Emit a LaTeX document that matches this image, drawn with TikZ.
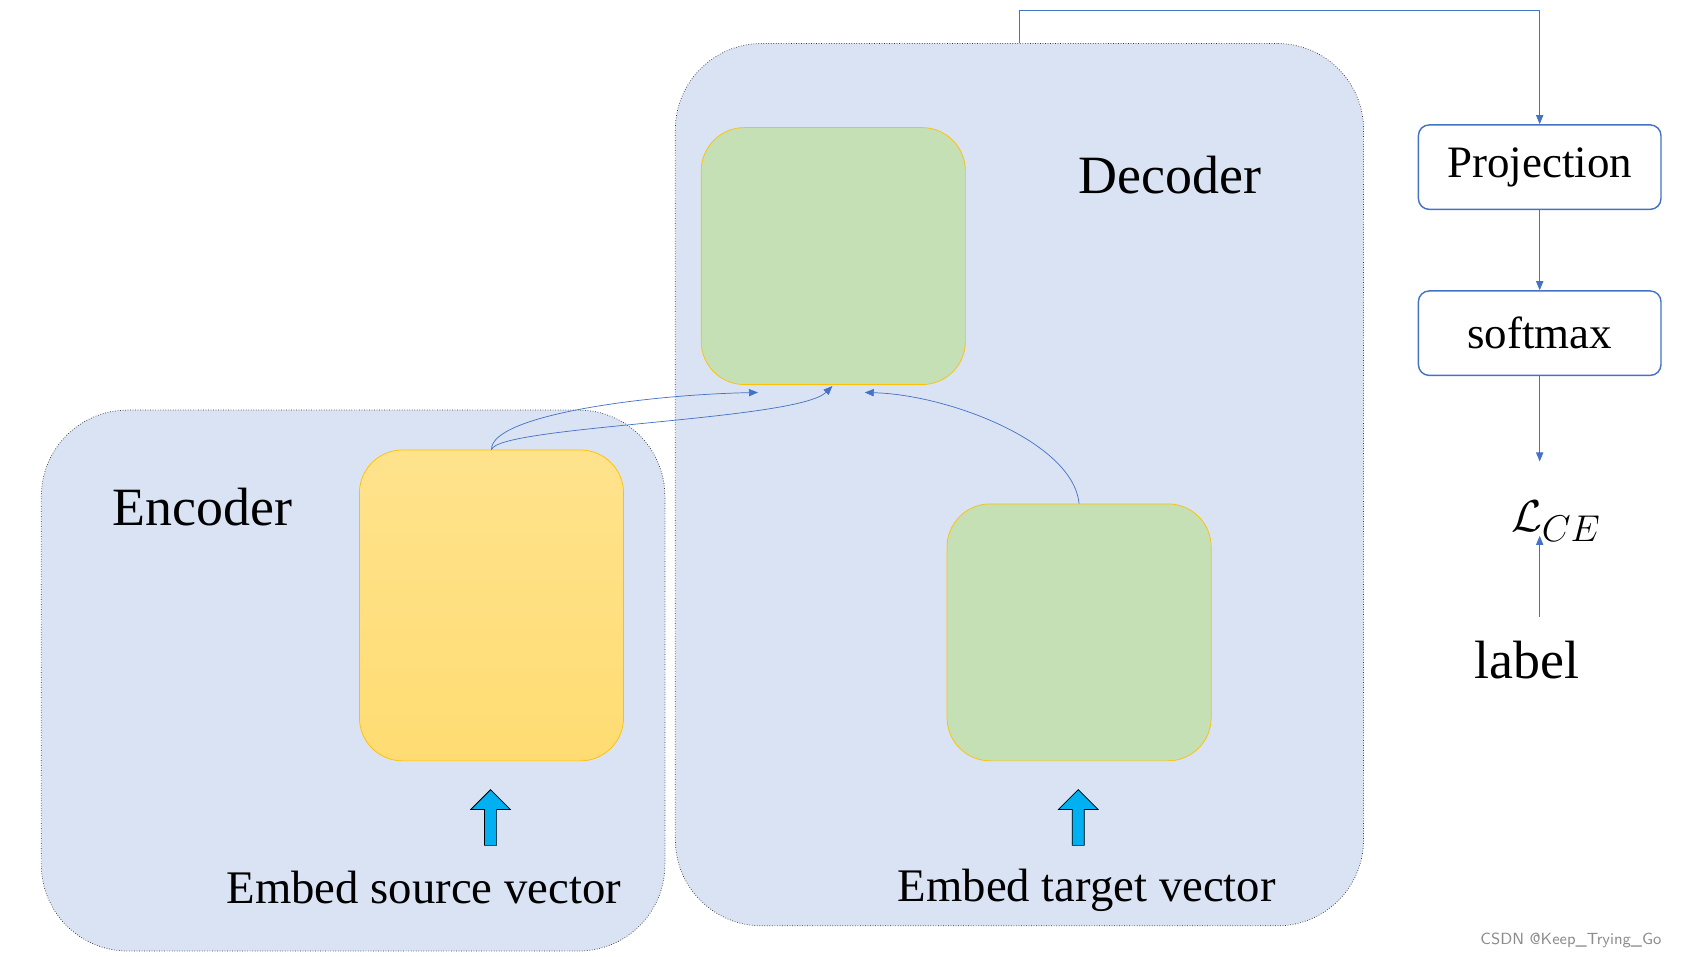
\documentclass[tikz,border=0pt]{standalone}
\usepackage{fontspec}
\setmainfont{Liberation Serif}
\usetikzlibrary{shapes.arrows,arrows.meta}
\definecolor{boxbg}{HTML}{DAE3F3}
\definecolor{grn}{HTML}{C5E0B4}
\definecolor{gold}{HTML}{FFC000}
\definecolor{lnk}{HTML}{4472C4}
\definecolor{cyanar}{HTML}{00B0F0}
\begin{document}
\begin{tikzpicture}[x=0.6pt,y=-0.6pt,
  big/.style={draw=black!80,densely dotted,fill=boxbg,rounded corners=48pt,anchor=north west,inner sep=0},
  blk/.style={draw=gold,rounded corners=24pt,anchor=north west,inner sep=0,minimum width=147pt},
  lab/.style={draw=lnk,thick,rounded corners=6pt,minimum width=135pt,minimum height=47pt,inner sep=0,font=\fontsize{25}{25}\selectfont},
  con/.style={draw=lnk,-{Triangle[length=5pt,width=4pt]}},
  up/.style={single arrow,shape border rotate=90,draw=black,fill=cyanar,minimum height=31pt,minimum width=22pt,single arrow head extend=5pt,inner sep=2pt}]
\useasboundingbox (0,0) rectangle (1560,887);
\node[big,minimum width=347pt,minimum height=301pt] (enc) at (38,380) {};
\node[big,minimum width=383pt,minimum height=491pt] (dec) at (626,40) {};
\node[blk,fill=grn,minimum height=143pt] (gt) at (650,118) {};
\node[blk,top color=gold!45,bottom color=gold!55,minimum height=173pt] (og) at (333,417) {};
\node[blk,fill=grn,minimum height=143pt] (gb) at (878,467) {};
\node[up] (a1) at (455,761) {};
\node[up] (a2) at (1000,761) {};
\node[font=\fontsize{30}{30}\selectfont] (tenc) at (188,470) {Encoder};
\node[font=\fontsize{30}{30}\selectfont] (tdec) at (1085,162) {Decoder};
\node[font=\fontsize{26}{26}\selectfont] (tsrc) at (393,823) {Embed source vector};
\node[font=\fontsize{26}{26}\selectfont] (ttgt) at (1008,826) {Embed target vector};
\node[lab] (proj) at (1428,155) {Projection};
\node[lab] (soft) at (1428,309) {softmax};
\node[font=\fontsize{30}{30}\selectfont] (lce) at (1443,483) {$\mathcal{L}_{CE}$};
\node[font=\fontsize{30}{30}\selectfont] (lbl) at (1416,612) {label};
\node[font=\sffamily\fontsize{9}{9}\selectfont,text=black!45] (wm) at (1457,872) {CSDN @Keep\_Trying\_Go};
\coordinate (dtop) at (945,40);
\coordinate (t1) at (703,364);
\coordinate (t2) at (772,358);
\coordinate (t3) at (802,364);
\draw[con] (dtop) |- (945,10) -| (proj.north);
\draw[con] (proj.south) -- (soft.north);
\draw[con] (soft.south) -- (1428,428);
\draw[con] (1428,572) -- (1428,497);
\draw[con] (og.north) .. controls (455,385) and (600,366) .. (t1);
\draw[con] (og.north) .. controls (462,395) and (740,390) .. (t2);
\draw[con] (gb.north) .. controls (995,410) and (880,366) .. (t3);
\end{tikzpicture}
\end{document}
